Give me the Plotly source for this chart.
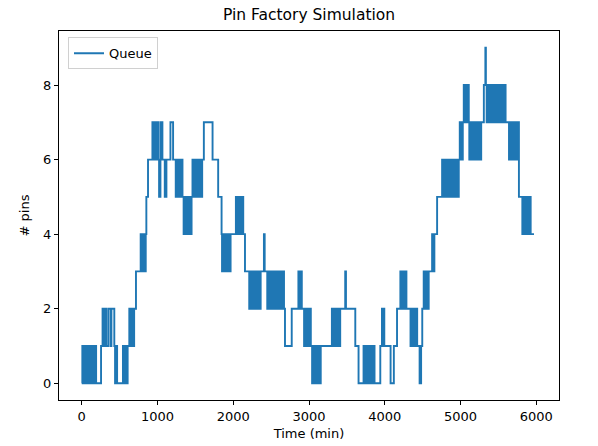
"""Pin Factory Simulation — queue length (step line) over time."""
import plotly.graph_objects as go

# change points of the queue (minute, pins in queue)
time_min = [
    0, 8, 22, 35, 55, 68, 90, 102, 125, 138, 160, 170, 190, 255, 275,
    300, 312, 322, 350, 380, 392, 430,
    440, 448, 455, 462, 467, 544, 552, 562, 575, 588, 600, 606,
    628, 640, 650, 662, 672, 684, 692, 716,
    778, 790, 800, 815, 825, 838, 845, 853, 875,
    933, 942, 950, 958, 966, 977, 995, 1013, 1021, 1039, 1042, 1052, 1058, 1065,
    1096, 1118, 1171, 1206,
    1241, 1252, 1262, 1275, 1285, 1298, 1310, 1320, 1330,
    1345, 1370, 1378, 1391, 1413, 1425, 1432, 1450,
    1462, 1472, 1480, 1492, 1500, 1512, 1522, 1535, 1545, 1558, 1568, 1580, 1590,
    1612, 1727, 1801, 1846,
    1852, 1862, 1870, 1882, 1890, 1902, 1912, 1925, 1935, 1948, 1955, 1965,
    2035, 2045, 2055, 2068, 2078, 2090, 2100, 2112, 2120, 2132,
    2155, 2211, 2222, 2232, 2245, 2258, 2270, 2282, 2295, 2305, 2318, 2330, 2342, 2352, 2362,
    2405, 2415,
    2449, 2460, 2470, 2480, 2492, 2502, 2512, 2525, 2535, 2545, 2558,
    2568, 2580, 2592, 2602, 2615, 2625, 2638, 2648, 2660, 2670,
    2683, 2772, 2860, 2872, 2880, 2892, 2898, 2905,
    2935, 2945, 2955, 2968, 2978, 2990, 3000, 3012, 3024,
    3041, 3052, 3060, 3072, 3080, 3092, 3100, 3112, 3120, 3135, 3142, 3155,
    3302, 3312, 3322, 3335, 3345, 3358, 3368, 3380, 3390, 3400, 3412,
    3478, 3488, 3611, 3654,
    3720, 3730, 3742, 3752, 3765, 3775, 3788, 3798, 3810, 3820, 3832, 3842, 3855, 3865,
    3941, 3963, 3975, 3985, 3994, 4077, 4120, 4162,
    4206, 4218, 4228, 4240, 4250, 4262, 4272, 4286,
    4340, 4350, 4362, 4372, 4385, 4395, 4408, 4418, 4428,
    4460, 4480, 4495, 4514, 4525, 4535, 4548, 4558, 4570, 4580,
    4625, 4632, 4640, 4648, 4655, 4691,
    4757, 4768, 4778, 4790, 4800, 4812, 4822, 4835, 4845, 4858, 4868,
    4880, 4890, 4902, 4912, 4925, 4935, 4948, 4958, 4968, 4977,
    4990, 5000, 5010, 5020, 5030, 5043,
    5052, 5062, 5072, 5082, 5092, 5100, 5109, 5116, 5126, 5135, 5145, 5155, 5167,
    5185, 5195, 5205, 5215, 5225, 5235, 5245, 5255, 5262, 5273,
    5308, 5328, 5335, 5345, 5355, 5365, 5375, 5385, 5395, 5405, 5415, 5425, 5435, 5445, 5455,
    5470, 5490, 5500, 5512, 5522, 5535, 5545, 5558, 5568, 5580, 5595,
    5640, 5650, 5660, 5672, 5682, 5695, 5705, 5718, 5728, 5740, 5750, 5762,
    5771, 5816, 5826, 5836, 5846, 5856, 5868, 5878, 5890, 5900, 5912, 5926, 5970,
]
queue_len = [
    0, 1, 0, 1, 0, 1, 0, 1, 0, 1, 0, 1, 0, 1, 2,
    1, 2, 1, 2, 1, 2, 1,
    0, 1, 0, 1, 0, 1, 0, 1, 0, 1, 0, 1,
    2, 1, 2, 1, 2, 1, 2, 3,
    4, 3, 4, 3, 4, 3, 4, 5, 6,
    7, 6, 7, 6, 7, 6, 7, 6, 5, 6, 7, 6, 7, 6,
    5, 6, 7, 6,
    5, 6, 5, 6, 5, 6, 5, 6, 5,
    4, 5, 4, 5, 4, 5, 4, 5,
    6, 5, 6, 5, 6, 5, 6, 5, 6, 5, 6, 5, 6,
    7, 6, 5, 4,
    3, 4, 3, 4, 3, 4, 3, 4, 3, 4, 3, 4,
    5, 4, 5, 4, 5, 4, 5, 4, 5, 4,
    3, 2, 3, 2, 3, 2, 3, 2, 3, 2, 3, 2, 3, 2, 3,
    4, 3,
    2, 3, 2, 3, 2, 3, 2, 3, 2, 3, 2,
    3, 2, 3, 2, 3, 2, 3, 2, 3, 2,
    1, 2, 3, 2, 3, 2, 3, 2,
    1, 2, 1, 2, 1, 2, 1, 2, 1,
    0, 1, 0, 1, 0, 1, 0, 1, 0, 1, 0, 1,
    2, 1, 2, 1, 2, 1, 2, 1, 2, 1, 2,
    3, 2, 1, 0,
    1, 0, 1, 0, 1, 0, 1, 0, 1, 0, 1, 0, 1, 0,
    1, 2, 1, 2, 1, 0, 1, 2,
    3, 2, 3, 2, 3, 2, 3, 2,
    1, 2, 1, 2, 1, 2, 1, 2, 1,
    0, 1, 2, 3, 2, 3, 2, 3, 2, 3,
    4, 3, 4, 3, 4, 5,
    6, 5, 6, 5, 6, 5, 6, 5, 6, 5, 6,
    5, 6, 5, 6, 5, 6, 5, 6, 5, 6,
    7, 6, 7, 6, 7, 8,
    7, 8, 7, 8, 7, 8, 7, 6, 7, 6, 7, 6, 7,
    6, 7, 6, 7, 6, 7, 6, 7, 6, 7,
    8, 9, 8, 7, 8, 7, 8, 7, 8, 7, 8, 7, 8, 7, 8,
    7, 8, 7, 8, 7, 8, 7, 8, 7, 8, 7,
    6, 7, 6, 7, 6, 7, 6, 7, 6, 7, 6, 7,
    5, 4, 5, 4, 5, 4, 5, 4, 5, 4, 5, 4, 4,
]
x_ticks = [0, 1000, 2000, 3000, 4000, 5000, 6000]
y_ticks = [0, 2, 4, 6, 8]

FONT = "DejaVu Sans"
BLUE = "#1f77b4"

fig = go.Figure()
fig.add_trace(
    go.Scatter(
        x=time_min,
        y=queue_len,
        name="Queue",
        mode="lines",
        line=dict(color=BLUE, width=1.9, shape="hv"),
    )
)

axis_common = dict(
    showgrid=False,
    zeroline=False,
    showline=True,
    linecolor="black",
    linewidth=1,
    mirror=True,
    ticks="outside",
    ticklen=4,
    tickcolor="black",
    automargin=False,
    tickfont=dict(family=FONT, size=13, color="black"),
)
fig.update_xaxes(
    range=[-300, 6300],
    tickvals=x_ticks,
    title=dict(text="Time (min)", font=dict(family=FONT, size=13, color="black"), standoff=6),
    **axis_common,
)
fig.update_yaxes(
    range=[-0.45, 9.45],
    tickvals=y_ticks,
    title=dict(text="# pins", font=dict(family=FONT, size=13, color="black"), standoff=10),
    **axis_common,
)
fig.update_layout(
    width=598,
    height=446,
    margin=dict(l=59, r=39, t=31, b=46, autoexpand=False),
    paper_bgcolor="white",
    plot_bgcolor="white",
    font=dict(family=FONT, color="black"),
    title=dict(
        text="Pin Factory Simulation",
        font=dict(family=FONT, size=15.5, color="black"),
        x=0.5,
        xref="paper",
        xanchor="center",
        y=1 - 15 / 446,
        yanchor="middle",
        automargin=False,
    ),
    showlegend=True,
    legend=dict(
        x=0.018,
        y=0.983,
        xanchor="left",
        yanchor="top",
        bgcolor="rgba(255,255,255,0.8)",
        bordercolor="#d0d0d0",
        borderwidth=1,
        font=dict(family=FONT, size=13, color="black"),
        itemwidth=30,
    ),
)

# the page's default body margin would shift the figure by 8px
fig.write_html(
    "out.html",
    config={"displayModeBar": False},
    post_script="document.body.style.margin='0';",
)
